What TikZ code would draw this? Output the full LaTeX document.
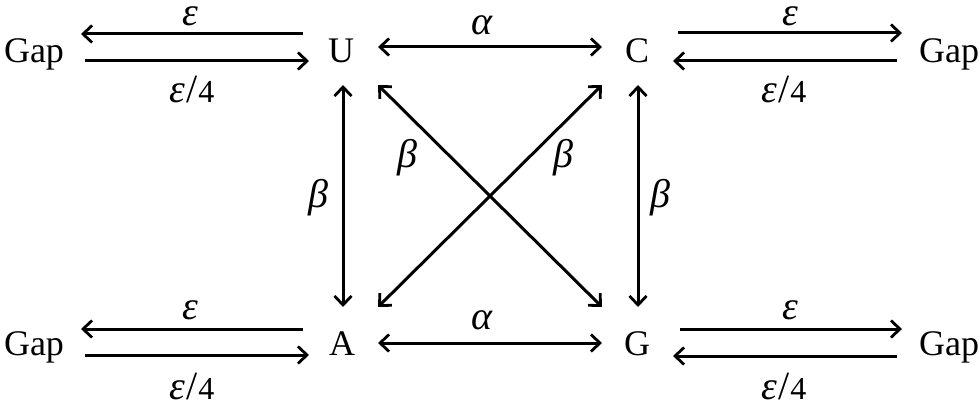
\documentclass[tikz,border=0pt]{standalone}
\usepackage{fontspec}
\setmainfont{Liberation Serif}
\usetikzlibrary{arrows.meta}
\newcommand{\epsq}{{\fontsize{40}{44}\selectfont\itshape ε}{\fontsize{40}{44}\selectfont\upshape \kern1pt/\kern1pt}{\fontsize{32}{36}\selectfont\upshape 4}}
\begin{document}
\begin{tikzpicture}[x=1pt,y=-1pt,
  lbl/.style={font=\fontsize{36}{40}\selectfont, inner sep=0pt, anchor=base},
  gr/.style={font=\fontsize{40}{44}\selectfont\itshape, inner sep=0pt},
  arr/.style={line width=3pt, -{Straight Barb[length=9pt,width=17pt,line width=2.8pt]}},
  darr/.style={line width=3pt, {Straight Barb[length=9pt,width=17pt,line width=2.8pt]}-{Straight Barb[length=9pt,width=17pt,line width=2.8pt]}}]
\useasboundingbox (0,0) rectangle (979,409);
% nodes
\node[lbl] (gapTL) at (34,63) {Gap};
\node[lbl] (U) at (341,63) {U};
\node[lbl] (C) at (637,63) {C};
\node[lbl] (gapTR) at (949,63) {Gap};
\node[lbl] (gapBL) at (34,355) {Gap};
\node[lbl] (A) at (342,355) {A};
\node[lbl] (G) at (637,355) {G};
\node[lbl] (gapBR) at (949,355) {Gap};
% top left
\draw[arr] ([shift={(-38,-29)}]U.base) -- ([shift={(47,-29)}]gapTL.base);
\draw[arr] ([shift={(51,-2)}]gapTL.base) -- ([shift={(-32,-2)}]U.base);
% top right
\draw[arr] ([shift={(41,-30)}]C.base) -- ([shift={(-47,-30)}]gapTR.base);
\draw[arr] ([shift={(-52,-2)}]gapTR.base) -- ([shift={(36,-2)}]C.base);
% square
\draw[darr] ([shift={(37,-16)}]U.base) -- ([shift={(-35,-16)}]C.base);
\draw[darr] ([shift={(2,22)}]U.base) -- ([shift={(1,-48)}]A.base);
\draw[darr] ([shift={(1,22)}]C.base) -- ([shift={(1,-48)}]G.base);
\draw[darr] ([shift={(37,22)}]U.base) -- ([shift={(-35,-48)}]G.base);
\draw[darr] ([shift={(-35,22)}]C.base) -- ([shift={(36,-48)}]A.base);
\draw[darr] ([shift={(36,-12)}]A.base) -- ([shift={(-35,-12)}]G.base);
% bottom left
\draw[arr] ([shift={(-39,-26)}]A.base) -- ([shift={(47,-26)}]gapBL.base);
\draw[arr] ([shift={(51,0)}]gapBL.base) -- ([shift={(-33,0)}]A.base);
% bottom right
\draw[arr] ([shift={(43,-26)}]G.base) -- ([shift={(-47,-26)}]gapBR.base);
\draw[arr] ([shift={(-52,1)}]gapBR.base) -- ([shift={(36,1)}]G.base);
% labels
\node[gr] (l1) at (190,16) {ε};
\node[gr] (l2) at (192,90) {\epsq};
\node[gr] (l3) at (482,25) {α};
\node[gr] (l4) at (790,16) {ε};
\node[gr] (l5) at (784,90) {\epsq};
\node[gr] (l6) at (190,310) {ε};
\node[gr] (l7) at (192,387) {\epsq};
\node[gr] (l8) at (482,320) {α};
\node[gr] (l9) at (790,310) {ε};
\node[gr] (l10) at (784,387) {\epsq};
\node[gr] (b1) at (318,198) {β};
\node[gr] (b2) at (660,198) {β};
\node[gr] (b3) at (407,158) {β};
\node[gr] (b4) at (563,158) {β};
\end{tikzpicture}
\end{document}
